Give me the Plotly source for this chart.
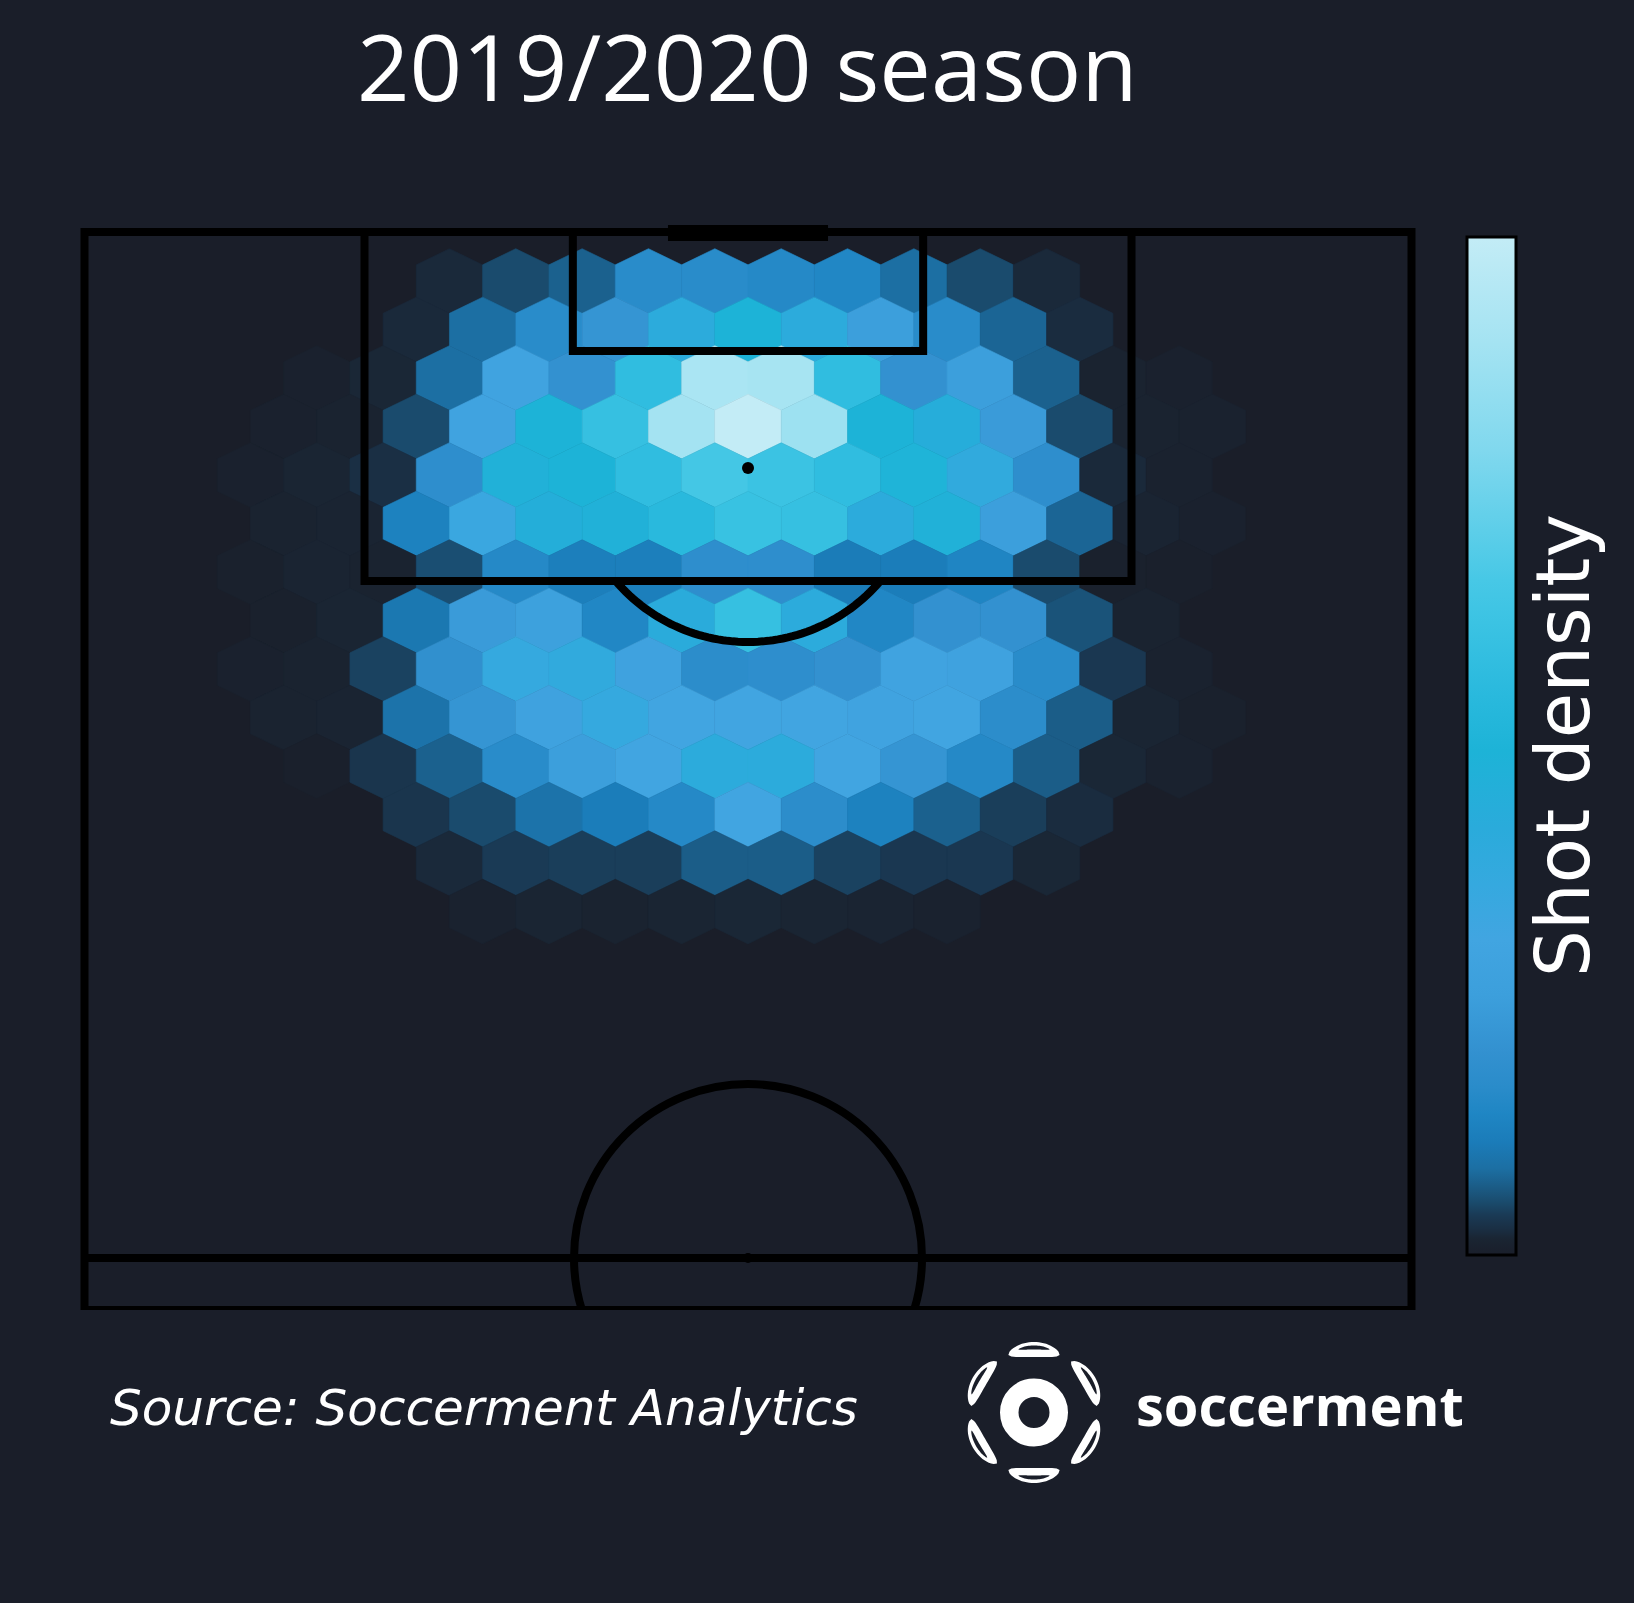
import math
import plotly.graph_objects as go
from plotly.colors import sample_colorscale

# ---------------- data ----------------
title_text = "2019/2020 season"
source_text = "Source: Soccerment Analytics"
brand_text = "soccerment"
colorbar_title = "Shot density"

# hexbin grid on an Opta pitch (0-100 x 0-100), vertical half pitch
hex_dx = 5.0          # centre-to-centre spacing along a row
hex_dy = 2.3635       # spacing between rows
hex_y0 = 97.612       # y of first (top) row
# even rows start at x = 2.5, odd rows at x = 0; one density value per column

row_00 = [0, 0, 0, 0, 0, .02, .052, .072, .164, .164, .154, .145, .085, .052, .02, 0, 0, 0, 0, 0, 0]
row_01 = [0, 0, 0, 0, 0, .02, .085, .164, .214, .408, .495, .408, .255, .164, .076, .023, 0, 0, 0, 0, 0]
row_02 = [0, 0, 0, .008, .018, .085, .296, .20, .579, .916, .906, .579, .20, .255, .072, .012, .008, 0, 0, 0, 0]
row_03 = [0, 0, 0, .008, .012, .052, .296, .495, .60, .895, 1.0, .874, .495, .441, .241, .052, .012, .01, 0, 0, 0]
row_04 = [0, 0, .008, .016, .026, .182, .473, .495, .579, .653, .621, .579, .506, .386, .182, .02, .01, 0, 0, 0, 0]
row_05 = [0, 0, 0, .012, .014, .127, .343, .452, .473, .548, .611, .60, .408, .473, .255, .076, .014, .008, 0, 0, 0]
row_06 = [0, 0, .006, .014, .012, .055, .154, .119, .119, .182, .182, .110, .114, .136, .052, .006, .004, 0, 0, 0, 0]
row_07 = [0, 0, 0, .006, .016, .102, .241, .269, .145, .419, .60, .408, .145, .20, .20, .059, .012, 0, 0, 0, 0]
row_08 = [0, 0, .008, .012, .045, .191, .364, .386, .283, .173, .182, .20, .296, .283, .164, .036, .01, 0, 0, 0, 0]
row_09 = [0, 0, 0, .012, .014, .093, .214, .283, .364, .31, .31, .31, .296, .31, .173, .068, .016, .006, 0, 0, 0]
row_10 = [0, 0, 0, .004, .033, .072, .164, .255, .31, .408, .408, .31, .214, .154, .068, .018, .01, 0, 0, 0, 0]
row_11 = [0, 0, 0, 0, 0, .033, .052, .093, .114, .154, .31, .173, .127, .072, .042, .023, 0, 0, 0, 0, 0]
row_12 = [0, 0, 0, 0, 0, .02, .039, .042, .042, .068, .068, .045, .036, .036, .018, 0, 0, 0, 0, 0, 0]
row_13 = [0, 0, 0, 0, 0, 0, .01, .016, .012, .016, .018, .016, .014, .01, 0, 0, 0, 0, 0, 0, 0]

hex_rows = [row_00, row_01, row_02, row_03, row_04, row_05, row_06,
            row_07, row_08, row_09, row_10, row_11, row_12, row_13]

colorscale = [
    [0.000, '#1a1f2b'], [0.008, '#1a212e'], [0.016, '#1a2533'], [0.026, '#1a2f44'],
    [0.039, '#1a3a55'], [0.051, '#1a4a6b'], [0.068, '#1b5d88'], [0.085, '#1c6fa3'],
    [0.111, '#1b7cb9'], [0.139, '#1f86c4'], [0.166, '#2a8cca'], [0.200, '#3391d0'],
    [0.255, '#3c9fdc'], [0.310, '#41a5e1'], [0.364, '#35a9df'], [0.419, '#2aabdb'],
    [0.495, '#1db3d7'], [0.558, '#2bbade'], [0.621, '#3bc3e3'], [0.663, '#47c8e6'],
    [0.790, '#80d8ee'], [0.895, '#a4e3f2'], [1.000, '#c3ecf6'],
]

# ---------------- layout constants ----------------
W, H = 1634, 1603
PLOT_H = 1310                      # plot area height in px (bottom margin below)
BG = '#1a1e29'
X_RANGE = [-6.368, 116.767]
Y_RANGE = [47.47, 111.306]
PX_X = W / (X_RANGE[1] - X_RANGE[0])       # px per x unit
PX_Y = PLOT_H / (Y_RANGE[1] - Y_RANGE[0])  # px per y unit

def pp(px, py):
    """figure pixel -> paper coords"""
    return px / W, (PLOT_H - py) / PLOT_H

fig = go.Figure()

# ---------------- hexagons ----------------
hh = hex_dy / 1.5   # half height of a hexagon
for r, row in enumerate(hex_rows):
    cy = hex_y0 - r * hex_dy
    x_off = 2.5 if r % 2 == 0 else 0.0
    for i, v in enumerate(row):
        if v <= 0:
            continue
        cx = x_off + i * hex_dx
        col = sample_colorscale(colorscale, [v])[0]
        xs = [cx, cx + hex_dx / 2, cx + hex_dx / 2, cx, cx - hex_dx / 2, cx - hex_dx / 2, cx]
        ys = [cy + hh, cy + hh / 2, cy - hh / 2, cy - hh, cy - hh / 2, cy + hh / 2, cy + hh]
        fig.add_trace(go.Scatter(x=xs, y=ys, mode='lines', fill='toself',
                                 fillcolor=col, line=dict(color=col, width=0.6),
                                 hoverinfo='skip', showlegend=False))

# colorbar carrier (outside visible range)
fig.add_trace(go.Scatter(
    x=[-50], y=[60], mode='markers', hoverinfo='skip', showlegend=False,
    marker=dict(size=1, color=[0.5], colorscale=colorscale, cmin=0, cmax=1,
                showscale=True,
                colorbar=dict(thickness=49, thicknessmode='pixels',
                              len=(1255 - 237) / PLOT_H, lenmode='fraction',
                              x=1467 / W, xanchor='left', xpad=0,
                              y=(PLOT_H - 1255) / PLOT_H, yanchor='bottom', ypad=0,
                              outlinecolor='black', outlinewidth=3,
                              showticklabels=False, ticks='', bgcolor='rgba(0,0,0,0)'))))

# ---------------- pitch markings ----------------
LW = 8
line = dict(color='black', width=LW)
shapes = []
shapes.append(dict(type='rect', xref='x', yref='y', x0=0, x1=100, y0=Y_RANGE[0], y1=100, line=line))
shapes.append(dict(type='line', xref='x', yref='y', x0=0, x1=100, y0=50, y1=50, line=line))
shapes.append(dict(type='rect', xref='x', yref='y', x0=21.1, x1=78.9, y0=83, y1=100, line=line))
shapes.append(dict(type='rect', xref='x', yref='y', x0=36.8, x1=63.2, y0=94.2, y1=100, line=line))
# goal
shapes.append(dict(type='rect', xref='x', yref='y', x0=43.97, x1=56.03, y0=99.56, y1=100.34,
                   fillcolor='black', line=dict(width=0)))
# spots
for (sx, sy, rad) in [(50, 88.5, 6), (50, 50, 5)]:
    shapes.append(dict(type='circle', xref='x', yref='y', x0=sx - rad / PX_X, x1=sx + rad / PX_X,
                       y0=sy - rad / PX_Y, y1=sy + rad / PX_Y, fillcolor='black', line=dict(width=0)))
R_PX = 174
shapes.append(dict(type='circle', xref='x', yref='y', x0=50 - R_PX / PX_X, x1=50 + R_PX / PX_X,
                   y0=50 - R_PX / PX_Y, y1=50 + R_PX / PX_Y, line=line))
# penalty arc
th = math.acos((88.5 - 83) * PX_Y / R_PX)
pts = []
n = 60
for k in range(n + 1):
    t = -th + 2 * th * k / n
    pts.append((50 + R_PX * math.sin(t) / PX_X, 88.5 - R_PX * math.cos(t) / PX_Y))
path = 'M ' + ' L '.join(f'{a:.4f},{b:.4f}' for a, b in pts)
shapes.append(dict(type='path', xref='x', yref='y', path=path, line=line))

# ---------------- logo ----------------
LX, LY = 1034, 1412.5
RING_R, RING_W = 24.75, 18.5
cx0, cy0 = pp(LX - RING_R, LY + RING_R)
cx1, cy1 = pp(LX + RING_R, LY - RING_R)
shapes.append(dict(type='circle', xref='paper', yref='paper', x0=cx0, x1=cx1, y0=cy0, y1=cy1,
                   line=dict(color='white', width=RING_W)))

def crescent(angle_deg, rad=63, half_span=24, thick=15):
    a0 = math.radians(angle_deg)
    outer, innr = [], []
    n = 24
    for k in range(n + 1):
        f = -1 + 2 * k / n
        a = a0 + math.radians(half_span) * f
        t = thick * max(0.0, 1 - f * f) ** 0.6
        ro = rad + t / 2
        ri = rad - t / 2
        outer.append((LX + ro * math.cos(a), LY - ro * math.sin(a)))
        innr.append((LX + ri * math.cos(a), LY - ri * math.sin(a)))
    pts = outer + innr[::-1]
    ps = [pp(x, y) for x, y in pts]
    return 'M ' + ' L '.join(f'{x:.5f},{y:.5f}' for x, y in ps) + ' Z'

for ang in [90, 30, 150, 210, 270, 330]:
    shapes.append(dict(type='path', xref='paper', yref='paper', path=crescent(ang),
                       fillcolor='white', line=dict(width=0)))
    shapes.append(dict(type='path', xref='paper', yref='paper',
                       path=crescent(ang, rad=65, half_span=14, thick=4),
                       fillcolor=BG, line=dict(width=0)))

# ---------------- texts ----------------
ann = []
tx, ty = pp(747, 66)
ann.append(dict(text=title_text, x=tx, y=ty, xref='paper', yref='paper', showarrow=False,
                xanchor='center', yanchor='middle',
                font=dict(family='Open Sans', size=92, color='white')))
tx, ty = pp(1563, 746)
ann.append(dict(text=colorbar_title, x=tx, y=ty, xref='paper', yref='paper', showarrow=False,
                xanchor='center', yanchor='middle', textangle=-90,
                font=dict(family='DejaVu Sans', size=74, color='white')))
tx, ty = pp(108, 1408)
ann.append(dict(text=f'<i>{source_text}</i>', x=tx, y=ty, xref='paper', yref='paper',
                showarrow=False, xanchor='left', yanchor='middle',
                font=dict(family='DejaVu Sans', size=50, color='white')))
tx, ty = pp(1134, 1404)
ann.append(dict(text=f'<b>{brand_text}</b>', x=tx, y=ty, xref='paper', yref='paper',
                showarrow=False, xanchor='left', yanchor='middle',
                font=dict(family='Open Sans', size=56, color='white')))

fig.update_layout(
    width=W, height=H,
    margin=dict(l=0, r=0, t=0, b=H - PLOT_H, pad=0, autoexpand=False),
    paper_bgcolor=BG, plot_bgcolor=BG,
    xaxis=dict(range=X_RANGE, visible=False, showgrid=False, zeroline=False, fixedrange=True),
    yaxis=dict(range=Y_RANGE, visible=False, showgrid=False, zeroline=False, fixedrange=True),
    shapes=shapes, annotations=ann, showlegend=False,
)

fig.write_html("out.html",
               config={'displayModeBar': False},
               post_script="document.body.style.margin='0px';"
                           "document.body.style.padding='0px';"
                           "document.body.style.overflow='hidden';"
                           "document.body.style.background='" + BG + "';")
